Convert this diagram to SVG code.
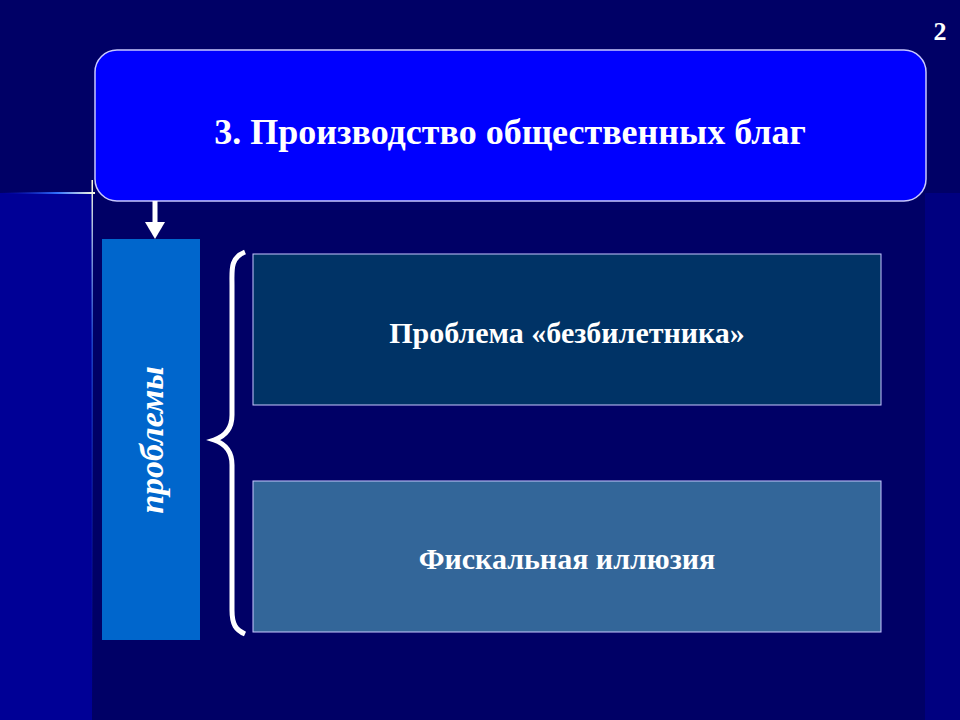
<svg xmlns="http://www.w3.org/2000/svg" width="960" height="720" viewBox="0 0 960 720">
<defs>
<linearGradient id="hl" x1="0" x2="1"><stop offset="0" stop-color="#0000aa" stop-opacity="0"/><stop offset="0.6" stop-color="#3070ff"/><stop offset="1" stop-color="#ffffe0"/></linearGradient>
<linearGradient id="vl" x1="0" y1="0" x2="0" y2="1"><stop offset="0" stop-color="#ffffe0"/><stop offset="0.3" stop-color="#3070ff" stop-opacity="0.6"/><stop offset="1" stop-color="#0000aa" stop-opacity="0"/></linearGradient>
<marker id="ah" viewBox="0 0 10 10" refX="5" refY="10" markerWidth="3" markerHeight="3" orient="auto-start-reverse"><path d="M0,0 L10,5 L0,10 z" fill="#fff"/></marker>
</defs>
<style>
.t{font-family:"Liberation Serif",serif;font-weight:bold;fill:#fff;text-anchor:middle}
</style>
<rect width="960" height="720" fill="#000066"/>
<rect x="0" y="193" width="92" height="527" fill="#000096"/>
<rect x="925" y="193" width="35" height="527" fill="#000080"/>
<rect x="0" y="192" width="95" height="2" fill="url(#hl)"/>
<rect x="91.5" y="180" width="1.5" height="540" fill="url(#vl)"/>
<text x="940" y="40" class="t" font-size="26">2</text>
<g id="title"><rect x="95" y="50" width="831" height="151" rx="22" fill="#0000ff" stroke="#c8c8ff" stroke-width="1.5"/><text x="510" y="144" class="t" font-size="36">3. Производство общественных благ</text></g>
<g id="connectors">
<line x1="155" y1="201" x2="155" y2="226" stroke="#fff" stroke-width="5"/>
<path d="M145,222 L165,222 L155,239 z" fill="#fff"/>
<path d="M245,252 C230,258 232,270 232,285 L232,415 C232,428 226,436 214,440 C226,444 232,452 232,465 L232,610 C232,625 236,630 245,634" fill="none" stroke="#fff" stroke-width="5"/>
</g>
<g id="problems"><rect x="102" y="239" width="98" height="401" fill="#0066cc"/><text transform="translate(163,440) rotate(-90)" class="t" font-size="34" font-style="italic">проблемы</text></g>
<g id="freerider"><rect x="253" y="254" width="628" height="151" fill="#003366" stroke="#c8c8ff" stroke-width="1"/><text x="567" y="343" class="t" font-size="30">Проблема «безбилетника»</text></g>
<g id="fiscal"><rect x="253" y="481" width="628" height="151" fill="#336699" stroke="#c8c8ff" stroke-width="1"/><text x="567" y="569" class="t" font-size="30">Фискальная иллюзия</text></g>
</svg>
